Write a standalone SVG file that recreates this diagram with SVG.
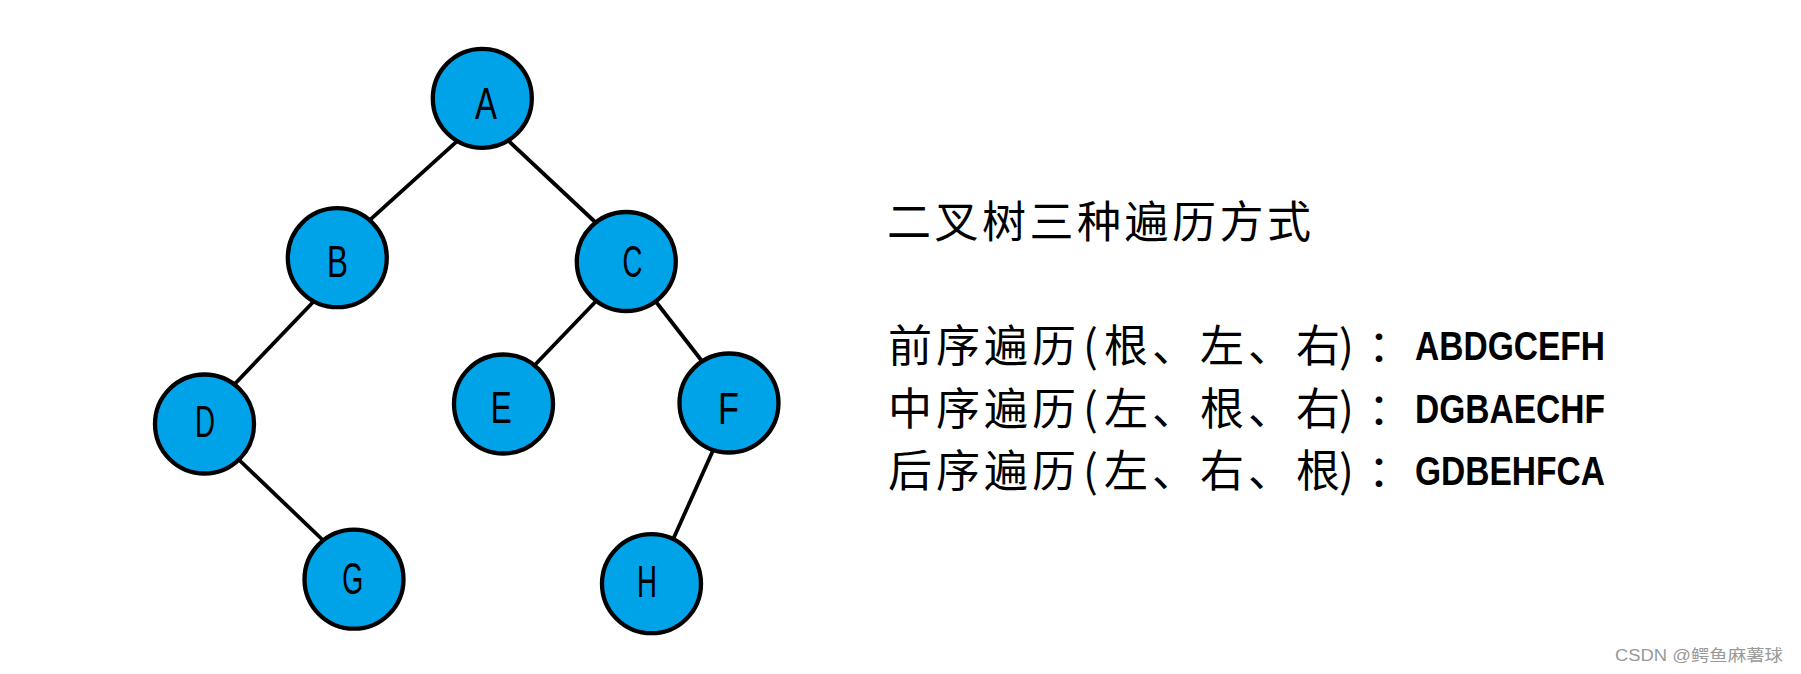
<svg xmlns="http://www.w3.org/2000/svg" width="1801" height="674" viewBox="0 0 1801 674">
<style>
.node circle{fill:#00A2E8;stroke:#000;stroke-width:4.3}
.node text{font-family:"Liberation Sans",Arial,sans-serif;font-size:44px;fill:#000;text-anchor:start}
.edge{stroke:#000;stroke-width:3.8;stroke-linecap:butt}
.cjk{font-family:"Noto Sans CJK SC","Noto Sans CJK JP",sans-serif;font-size:44px;fill:#000}
.lat{font-family:"Liberation Sans",Arial,sans-serif;font-size:41px;font-weight:bold;fill:#000}
.wm{font-family:"Liberation Sans","Noto Sans CJK SC",sans-serif;font-size:16px;fill:#999}
</style>
<rect width="1801" height="674" fill="#fff"/>
<g id="connectors">
<line class="edge" x1="461" y1="137.6" x2="365" y2="224.4"/>
<line class="edge" x1="506" y1="138.5" x2="601" y2="227.5"/>
<line class="edge" x1="317" y1="298" x2="229" y2="390"/>
<line class="edge" x1="601" y1="296" x2="530" y2="370"/>
<line class="edge" x1="653" y1="298" x2="705" y2="365"/>
<line class="edge" x1="235" y1="456" x2="328" y2="545"/>
<line class="edge" x1="715" y1="446" x2="671" y2="544"/>
</g>
<g id="node-A" class="node"><circle cx="482.3" cy="98.3" r="49.5"/><text x="475" y="119" textLength="22" lengthAdjust="spacingAndGlyphs">A</text></g>
<g id="node-B" class="node"><circle cx="337.3" cy="257.7" r="49.5"/><text x="327" y="276.5" textLength="21" lengthAdjust="spacingAndGlyphs">B</text></g>
<g id="node-C" class="node"><circle cx="626.3" cy="261.5" r="49.5"/><text x="622.5" y="277.3" textLength="20" lengthAdjust="spacingAndGlyphs">C</text></g>
<g id="node-D" class="node"><circle cx="204.5" cy="424" r="49.5"/><text x="195" y="437.3" textLength="20" lengthAdjust="spacingAndGlyphs">D</text></g>
<g id="node-E" class="node"><circle cx="503.5" cy="404" r="49.5"/><text x="490.7" y="423" textLength="21" lengthAdjust="spacingAndGlyphs">E</text></g>
<g id="node-F" class="node"><circle cx="729" cy="403" r="49.5"/><text x="718" y="424.3" textLength="21" lengthAdjust="spacingAndGlyphs">F</text></g>
<g id="node-G" class="node"><circle cx="354" cy="579.2" r="49.5"/><text x="342.3" y="594.3" textLength="21" lengthAdjust="spacingAndGlyphs">G</text></g>
<g id="node-H" class="node"><circle cx="651.5" cy="583.7" r="49.5"/><text x="637" y="596.7" textLength="20" lengthAdjust="spacingAndGlyphs">H</text></g>
<g id="text-panel">
<text class="cjk" x="887 934.5 982 1029.5 1077 1124.5 1172 1219.5 1267" y="238">二叉树三种遍历方式</text>
<text class="cjk" x="888 936 984 1032 1083 1104 1152 1200 1248 1296 1339 1368" y="362">前序遍历(根、左、右)：</text>
<text class="lat" x="1415" y="360" textLength="190" lengthAdjust="spacingAndGlyphs">ABDGCEFH</text>
<text class="cjk" x="888 936 984 1032 1083 1104 1152 1200 1248 1296 1339 1368" y="425">中序遍历(左、根、右)：</text>
<text class="lat" x="1415" y="423" textLength="190" lengthAdjust="spacingAndGlyphs">DGBAECHF</text>
<text class="cjk" x="888 936 984 1032 1083 1104 1152 1200 1248 1296 1339 1368" y="487">后序遍历(左、右、根)：</text>
<text class="lat" x="1415" y="485" textLength="190" lengthAdjust="spacingAndGlyphs">GDBEHFCA</text>
</g>
<text class="wm" x="1615" y="661" textLength="168" lengthAdjust="spacingAndGlyphs">CSDN @鳄鱼麻薯球</text>
</svg>
